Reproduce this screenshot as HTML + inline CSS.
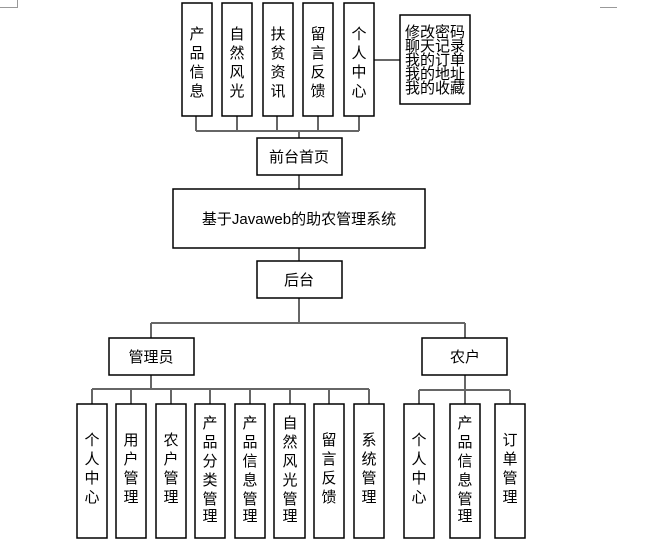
<!DOCTYPE html>
<html><head><meta charset="utf-8"><style>
html,body{margin:0;padding:0;background:#fff;}
svg{display:block}
text{font-family:"Liberation Sans","Noto Sans CJK SC",sans-serif;font-size:15px;fill:#000;}
</style></head><body>
<svg width="650" height="544" viewBox="0 0 650 544" xmlns="http://www.w3.org/2000/svg">
<g stroke="#999" stroke-width="1" fill="none">
<path d="M0 7.5H17.5V0 M600 7.5H617"/>
</g>
<g stroke="#666" stroke-width="2" fill="none">
<!-- top connectors -->
<path d="M196 116V131 M237 116V131 M277 116V131 M318 116V131 M359 116V131 M196 131H359 M299 131V138"/>
<path d="M374 60H400"/>
<path d="M299 175V189 M299 248V261 M299 298V323 M151 323H465 M151 323V338 M465 323V338"/>
<path d="M151 375V389 M92 389H369 M92 389V404 M131 389V404 M171 389V404 M210 389V404 M250 389V404 M290 389V404 M329 389V404 M369 389V404"/>
<path d="M465 375V390 M419 390H510 M419 390V404 M465 390V404 M510 390V404"/>
</g>
<g stroke="#000" stroke-width="1.5" fill="#fff">
<rect x="182" y="3" width="30" height="113"/>
<rect x="222" y="3" width="30" height="113"/>
<rect x="263" y="3" width="30" height="113"/>
<rect x="303" y="3" width="30" height="113"/>
<rect x="344" y="3" width="30" height="113"/>
<rect x="400" y="15" width="70" height="89"/>
<rect x="257" y="138" width="85" height="37"/>
<rect x="173" y="189" width="252" height="59"/>
<rect x="257" y="261" width="85" height="37"/>
<rect x="109" y="338" width="85" height="37"/>
<rect x="422" y="338" width="85" height="37"/>
<rect x="77" y="404" width="30" height="134"/>
<rect x="116" y="404" width="30" height="134"/>
<rect x="156" y="404" width="30" height="134"/>
<rect x="195" y="404" width="30" height="134"/>
<rect x="235" y="404" width="30" height="134"/>
<rect x="274" y="404" width="31" height="134"/>
<rect x="314" y="404" width="30" height="134"/>
<rect x="354" y="404" width="30" height="134"/>
<rect x="404" y="404" width="30" height="134"/>
<rect x="450" y="404" width="30" height="134"/>
<rect x="495" y="404" width="30" height="134"/>
</g>
<g text-anchor="middle">
<text x="197" y="39">产</text><text x="197" y="58">品</text><text x="197" y="77">信</text><text x="197" y="96">息</text>
<text x="237" y="39">自</text><text x="237" y="58">然</text><text x="237" y="77">风</text><text x="237" y="96">光</text>
<text x="278" y="39">扶</text><text x="278" y="58">贫</text><text x="278" y="77">资</text><text x="278" y="96">讯</text>
<text x="318" y="39">留</text><text x="318" y="58">言</text><text x="318" y="77">反</text><text x="318" y="96">馈</text>
<text x="359" y="39">个</text><text x="359" y="58">人</text><text x="359" y="77">中</text><text x="359" y="96">心</text>
<g style="font-size:13px"><text x="435" y="37">修改密码</text><text x="435" y="51">聊天记录</text><text x="435" y="65">我的订单</text><text x="435" y="79">我的地址</text><text x="435" y="93">我的收藏</text></g>
<text x="299" y="162">前台首页</text>
<text x="299" y="224">基于Javaweb的助农管理系统</text>
<text x="299" y="285">后台</text>
<text x="151" y="362">管理员</text>
<text x="465" y="362">农户</text>
<text x="92" y="445">个</text><text x="92" y="464">人</text><text x="92" y="483">中</text><text x="92" y="502">心</text>
<text x="131" y="445">用</text><text x="131" y="464">户</text><text x="131" y="483">管</text><text x="131" y="502">理</text>
<text x="171" y="445">农</text><text x="171" y="464">户</text><text x="171" y="483">管</text><text x="171" y="502">理</text>
<text x="210" y="428">产</text><text x="210" y="447">品</text><text x="210" y="466">分</text><text x="210" y="485">类</text><text x="210" y="504">管</text><text x="210" y="521">理</text>
<text x="250" y="428">产</text><text x="250" y="447">品</text><text x="250" y="466">信</text><text x="250" y="485">息</text><text x="250" y="504">管</text><text x="250" y="521">理</text>
<text x="290" y="428">自</text><text x="290" y="447">然</text><text x="290" y="466">风</text><text x="290" y="485">光</text><text x="290" y="504">管</text><text x="290" y="521">理</text>
<text x="329" y="445">留</text><text x="329" y="464">言</text><text x="329" y="483">反</text><text x="329" y="502">馈</text>
<text x="369" y="445">系</text><text x="369" y="464">统</text><text x="369" y="483">管</text><text x="369" y="502">理</text>
<text x="419" y="445">个</text><text x="419" y="464">人</text><text x="419" y="483">中</text><text x="419" y="502">心</text>
<text x="465" y="428">产</text><text x="465" y="447">品</text><text x="465" y="466">信</text><text x="465" y="485">息</text><text x="465" y="504">管</text><text x="465" y="521">理</text>
<text x="510" y="445">订</text><text x="510" y="464">单</text><text x="510" y="483">管</text><text x="510" y="502">理</text>
</g>
</svg>
</body></html>
